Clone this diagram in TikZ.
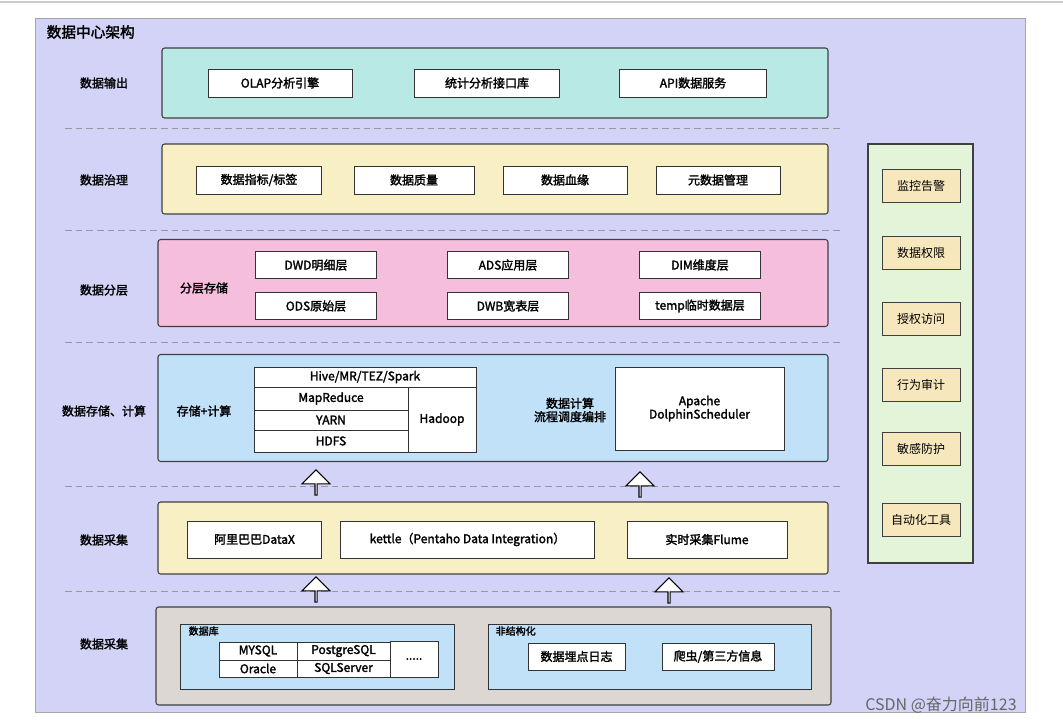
\documentclass[tikz,border=0pt]{standalone}
\usepackage{fontspec}
\setmainfont{Noto Sans CJK SC}[AutoFakeBold=2]
\usetikzlibrary{shapes.arrows}
\definecolor{bg}{HTML}{D3D3F7}
\definecolor{teal}{HTML}{B9E9E4}
\definecolor{cream}{HTML}{F8F0C4}
\definecolor{pinkc}{HTML}{F6BEDD}
\definecolor{bluec}{HTML}{C0E1F8}
\definecolor{grayc}{HTML}{DDD7D4}
\definecolor{greenc}{HTML}{E4F4D9}
\definecolor{tan}{HTML}{F7E7BC}
\begin{document}
\begin{tikzpicture}[x=0.75pt,y=-0.75pt,
  layer/.style={draw=black!75,line width=0.8pt,rounded corners=2pt},
  wb/.style={draw=black!80,fill=white,line width=0.7pt,inner sep=0pt,font=\bfseries\fontsize{9}{10}\selectfont},
  lab/.style={font=\bfseries\fontsize{9}{10}\selectfont,align=center},
  sepline/.style={draw=black!40,dash pattern=on 5pt off 3pt,line width=0.7pt},
  up/.style={single arrow,draw=black,fill=white,line width=0.8pt,shape border rotate=90,minimum height=19pt,minimum width=21pt,single arrow head extend=5pt,single arrow head indent=0pt,inner sep=0pt}]
\useasboundingbox (0,0) rectangle (1063,724);
\fill[white] (0,0) rectangle (1063,724);
\draw[black!20,line width=1pt] (0,2) -- (1063,2);
\draw[fill=bg,draw=black!35] (35,18) rectangle (1025,712);
\node[font=\bfseries\fontsize{11}{12}\selectfont,anchor=west] (title) at (42,32) {数据中心架构};
% layer 1
\node[layer,fill=teal,minimum width=666*0.75pt,minimum height=70*0.75pt] (L1) at (495,83) {};
\node[lab] (l1) at (104,83) {数据输出};
\node[wb,minimum width=108pt,minimum height=21pt] (olap) at (280,83) {OLAP分析引擎};
\node[wb,minimum width=109pt,minimum height=21pt] (tj) at (487,83) {统计分析接口库};
\node[wb,minimum width=110pt,minimum height=21pt] (api) at (693,83) {API数据服务};
\draw[sepline] (65,128) -- (840,128);
% layer 2
\node[layer,fill=cream,minimum width=666*0.75pt,minimum height=70*0.75pt] (L2) at (495,179) {};
\node[lab] (l2) at (104,180) {数据治理};
\node[wb,minimum width=94pt,minimum height=21pt] (zb) at (259,180) {数据指标/标签};
\node[wb,minimum width=90pt,minimum height=21pt] (zl) at (414,180) {数据质量};
\node[wb,minimum width=93pt,minimum height=21pt] (xy) at (565,180) {数据血缘};
\node[wb,minimum width=93pt,minimum height=21pt] (ys) at (718,180) {元数据管理};
\draw[sepline] (65,230) -- (840,230);
% layer 3
\node[layer,fill=pinkc,minimum width=670*0.75pt,minimum height=87*0.75pt] (L3) at (493,283) {};
\node[lab] (l3) at (104,290) {数据分层};
\node[lab] (fc) at (204,288) {分层存储};
\node[wb,minimum width=91pt,minimum height=20pt] (dwd) at (316,265) {DWD明细层};
\node[wb,minimum width=91pt,minimum height=20pt] (ads) at (508,265) {ADS应用层};
\node[wb,minimum width=91pt,minimum height=20pt] (dim) at (700,265) {DIM维度层};
\node[wb,minimum width=91pt,minimum height=20pt] (ods) at (316,306) {ODS原始层};
\node[wb,minimum width=91pt,minimum height=20pt] (dwb) at (508,306) {DWB宽表层};
\node[wb,minimum width=91pt,minimum height=20pt] (tmp) at (700,306) {temp临时数据层};
\draw[sepline] (65,342) -- (840,342);
% layer 4
\node[layer,fill=bluec,minimum width=670*0.75pt,minimum height=107*0.75pt] (L4) at (493,408) {};
\node[lab] (l4) at (104,411) {数据存储、计算};
\node[lab] (cc) at (204,411) {存储+计算};
\node[wb,minimum width=166.5pt,minimum height=15pt] (hive) at (365,377) {Hive/MR/TEZ/Spark};
\node[wb,minimum width=115.5pt,minimum height=17.25pt] (mr) at (331,398.5) {MapReduce};
\node[wb,minimum width=115.5pt,minimum height=15pt] (yarn) at (331,420) {YARN};
\node[wb,minimum width=115.5pt,minimum height=16.5pt] (hdfs) at (331,441) {HDFS};
\node[wb,minimum width=51pt,minimum height=48.75pt] (hadoop) at (442,419.5) {Hadoop};
\node[lab] (js) at (570,410) {数据计算\\流程调度编排};
\node[wb,minimum width=126.75pt,minimum height=62.25pt,align=center] (ds) at (699.5,408.5) {Apache\\DolphinScheduler};
\draw[sepline] (65,486) -- (840,486);
\node[up] (a1) at (316,483) {};
\node[up] (a2) at (640,485) {};
% layer 5
\node[layer,fill=cream,minimum width=670*0.75pt,minimum height=72*0.75pt] (L5) at (493,538) {};
\node[lab] (l5) at (104,540) {数据采集};
\node[wb,minimum width=101pt,minimum height=27.75pt] (datax) at (254.5,539.5) {阿里巴巴DataX};
\node[wb,minimum width=191pt,minimum height=27.75pt] (kettle) at (467.5,539.5) {kettle（Pentaho Data Integration）};
\node[wb,minimum width=120pt,minimum height=27.75pt] (flume) at (707,539.5) {实时采集Flume};
\draw[sepline] (65,591) -- (840,591);
\node[up] (a3) at (316,590) {};
\node[up] (a4) at (669,591) {};
% layer 6
\node[layer,fill=grayc,minimum width=675*0.75pt,minimum height=98*0.75pt] (L6) at (493.5,656) {};
\node[lab] (l6) at (104,644) {数据采集};
\node[draw=black!80,line width=0.7pt,fill=bluec,minimum width=206pt,minimum height=48.75pt] (db) at (317.5,656.5) {};
\node[lab,anchor=west,font=\bfseries\fontsize{7.5}{8}\selectfont] (dbl) at (184,631) {数据库};
\node[wb,minimum width=58.5pt,minimum height=13.5pt] (mysql) at (258,651) {MYSQL};
\node[wb,minimum width=69.75pt,minimum height=13.5pt] (pg) at (343.5,651) {PostgreSQL};
\node[wb,minimum width=58.5pt,minimum height=12.75pt] (ora) at (258,668.5) {Oracle};
\node[wb,minimum width=69.75pt,minimum height=12.75pt] (sqls) at (343.5,668.5) {SQLServer};
\node[wb,minimum width=36pt,minimum height=27pt] (dots) at (414,659) {.....};
\node[draw=black!80,line width=0.7pt,fill=bluec,minimum width=242.25pt,minimum height=48.75pt] (ns) at (649.5,656.5) {};
\node[lab,anchor=west,font=\bfseries\fontsize{7.5}{8}\selectfont] (nsl) at (491,631) {非结构化};
\node[wb,minimum width=72.75pt,minimum height=20.25pt] (md) at (576.5,656.5) {数据埋点日志};
\node[wb,minimum width=84pt,minimum height=20.25pt] (pc) at (718,656.5) {爬虫/第三方信息};
% right column
\node[draw=black!75,line width=0.8pt,fill=greenc,minimum width=78.75pt,minimum height=314.25pt] (R) at (920.5,353.5) {};
\foreach \n/\y/\t in {r1/185.5/监控告警,r2/252.5/数据权限,r3/318.5/授权访问,r4/384.5/行为审计,r5/448.5/敏感防护,r6/519.5/自动化工具}
  \node[draw=black!75,line width=0.7pt,fill=tan,minimum width=58.5pt,minimum height=24.75pt,font=\fontsize{9}{10}\selectfont] (\n) at (921,\y) {\t};
\node[text=black!60,font=\fontsize{12}{13}\selectfont] (wm) at (941,705) {CSDN @奋力向前123};
\end{tikzpicture}
\end{document}
